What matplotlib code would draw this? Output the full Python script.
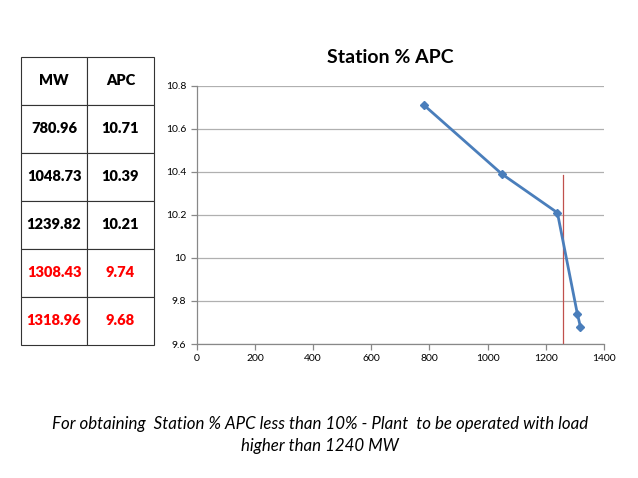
import matplotlib
matplotlib.use("Agg")
import matplotlib.pyplot as plt

mw = [780.96, 1048.73, 1239.82, 1308.43, 1318.96]
apc = [10.71, 10.39, 10.21, 9.74, 9.68]
row_colors = ['black', 'black', 'black', '#ff0000', '#ff0000']
headers = ['MW', 'APC']
limit_x = 1260
limit_top = 10.385
x_ticks = [0, 200, 400, 600, 800, 1000, 1200, 1400]
y_ticks = [9.6, 9.8, 10, 10.2, 10.4, 10.6, 10.8]
y_labels = ['9.6', '9.8', '10', '10.2', '10.4', '10.6', '10.8']

plt.rcParams['font.family'] = ['Lato', 'DejaVu Sans']
W, H = 638, 478
fig = plt.figure(figsize=(W / 100, H / 100), dpi=100)

# Chart
ax = fig.add_axes([196.7 / W, 1 - 344 / H, (604 - 196.7) / W, (344 - 85.7) / H])
ax.plot(mw, apc, color='#4a7ebb', lw=2, marker='D', ms=4.5, zorder=3)
ax.plot([limit_x, limit_x], [9.6, limit_top], color='#c0504d', lw=0.9, zorder=2)
ax.set_xlim(0, 1400)
ax.set_ylim(9.6, 10.8)
ax.set_xticks(x_ticks)
ax.set_yticks(y_ticks)
ax.set_yticklabels(y_labels)
ax.grid(axis='y', color='#b0b0b0', lw=0.9)
ax.set_axisbelow(True)
for s in ['top', 'right']:
    ax.spines[s].set_visible(False)
for s in ['left', 'bottom']:
    ax.spines[s].set_color('#888888')
    ax.spines[s].set_linewidth(0.9)
ax.tick_params(axis='both', labelsize=7.5, color='#888888', length=4, direction='out', width=0.9)
fig.text(390 / W, 1 - 57 / H, 'Station % APC', ha='center', va='center', fontsize=14, fontweight='bold')

# Table
tax = fig.add_axes([21 / W, 1 - 345 / H, (154 - 21) / W, (345 - 57) / H])
tax.axis('off')
cell_text = [[f'{m:.2f}', f'{a:.2f}'] for m, a in zip(mw, apc)]
tbl = tax.table(cellText=[headers] + cell_text, cellLoc='center', bbox=[0, 0, 1, 1],
                colWidths=[66 / 133, 67 / 133])
tbl.auto_set_font_size(False)
colors = ['black'] + row_colors
for (r, c), cell in tbl.get_celld().items():
    cell.set_edgecolor('#333333')
    cell.set_linewidth(0.8)
    cell.get_text().set_fontsize(10.5)
    cell.get_text().set_fontweight('heavy')
    cell.get_text().set_color(colors[r])

fig.text(320 / W, 1 - 424 / H, 'For obtaining  Station % APC less than 10% - Plant  to be operated with load',
         ha='center', va='center', fontsize=12.2, style='italic')
fig.text(320 / W, 1 - 446 / H, 'higher than 1240 MW', ha='center', va='center', fontsize=12.2, style='italic')

fig.savefig('out.png', dpi=100)
